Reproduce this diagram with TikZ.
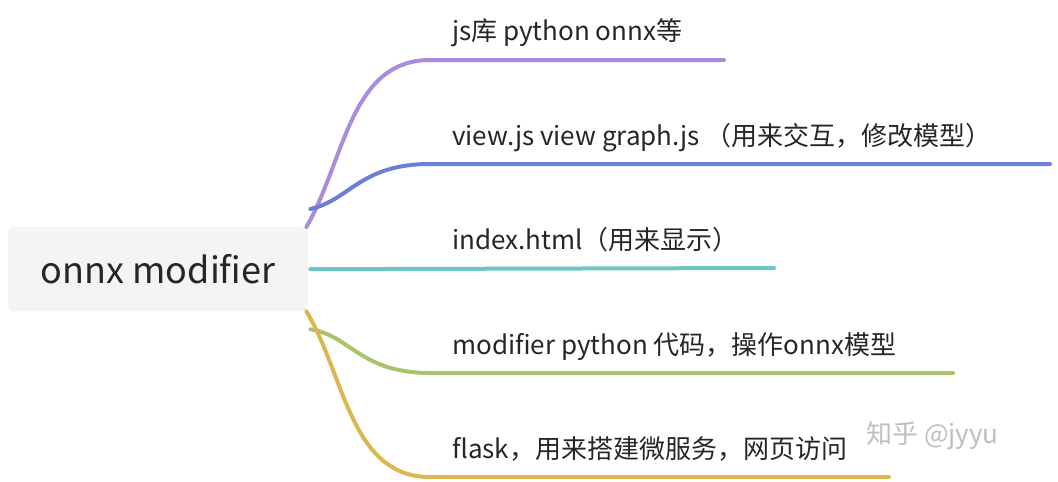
\documentclass[tikz,border=0pt]{standalone}
\usepackage{fontspec}
\newfontfamily\cjk{Noto Sans CJK SC}
\definecolor{cA}{HTML}{A98CDB}
\definecolor{cB}{HTML}{6C7FD8}
\definecolor{cC}{HTML}{6CC6C6}
\definecolor{cD}{HTML}{A9C46E}
\definecolor{cE}{HTML}{DDB654}
\definecolor{bx}{HTML}{F4F4F4}
\begin{document}
\begin{tikzpicture}[x=1pt,y=-1pt,
  br/.style={line width=4pt,line cap=round},
  lb/.style={anchor=base west,font=\cjk\fontsize{26}{30}\selectfont,text=black!85,inner sep=0pt}]
\useasboundingbox (0,0) rectangle (1058,482);
\node[fill=bx,rounded corners=5pt,minimum width=300pt,minimum height=84pt,anchor=north west,font=\cjk\fontsize{36}{40}\selectfont,text=black!85] (root) at (8,227) {onnx modifier};
\coordinate (e1) at (724,60); \coordinate (e2) at (1050,164); \coordinate (e3) at (774,268);
\coordinate (e4) at (953,373); \coordinate (e5) at (889,477);
\draw[br,cA] ([xshift=-2pt]root.north east) .. controls (345,160) and (350,60) .. (430,60) -- (e1);
\draw[br,cB] ([xshift=2pt,yshift=18pt]root.north east) .. controls (350,200) and (360,164) .. (430,164) -- (e2);
\draw[br,cC] ([xshift=2pt]root.east) -- (e3);
\draw[br,cD] ([xshift=2pt,yshift=-18pt]root.south east) .. controls (350,335) and (360,373) .. (430,373) -- (e4);
\draw[br,cE] ([xshift=-2pt]root.south east) .. controls (345,375) and (350,477) .. (430,477) -- (e5);
\node[lb] (t1) at (452,40) {js库 python onnx等};
\node[lb] (t2) at (452,145) {view.js view graph.js （用来交互，修改模型）};
\node[lb] (t3) at (452,249) {index.html（用来显示）};
\node[lb] (t4) at (452,354) {modifier python 代码，操作onnx模型};
\node[lb] (t5) at (452,458) {flask，用来搭建微服务，网页访问};
\node[anchor=base west,font=\cjk\fontsize{26}{28}\selectfont,text=black!25,inner sep=0pt] (wm) at (866,443) {知乎 @jyyu};
\end{tikzpicture}
\end{document}
